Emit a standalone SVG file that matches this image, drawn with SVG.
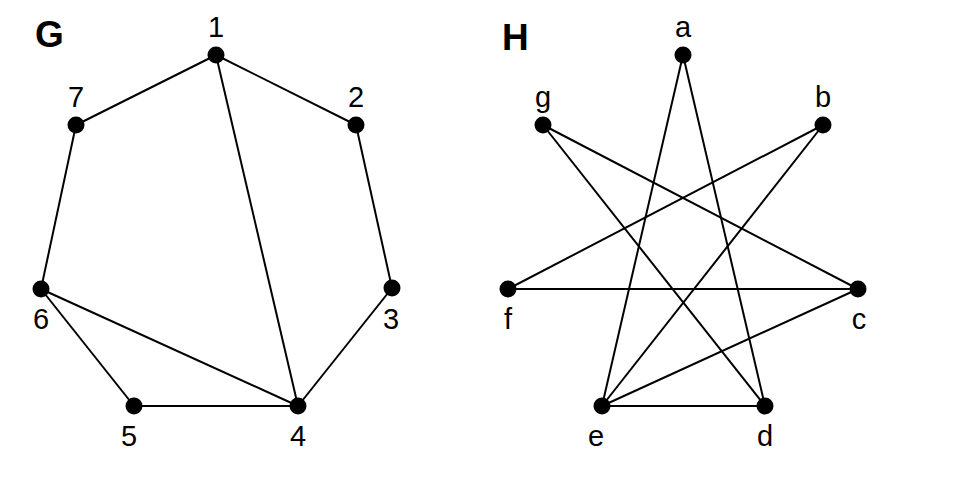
<svg xmlns="http://www.w3.org/2000/svg" width="954" height="488" viewBox="0 0 954 488">
<style>
.e{stroke:#000;stroke-width:2;fill:none}
.n{fill:#000}
.l{font-family:"Liberation Sans",Arial,sans-serif;font-size:29px;text-anchor:middle;fill:#000}
.t{font-family:"Liberation Sans",Arial,sans-serif;font-size:37px;font-weight:bold;fill:#000}
</style>
<rect width="954" height="488" fill="#fff"/>
<text class="t" x="35" y="47">G</text>
<text class="t" x="502" y="50">H</text>
<g id="connectors">
<line class="e" x1="216" y1="55" x2="76" y2="125"/>
<line class="e" x1="216" y1="55" x2="356" y2="125"/>
<line class="e" x1="216" y1="55" x2="298" y2="406"/>
<line class="e" x1="356" y1="125" x2="392" y2="288"/>
<line class="e" x1="392" y1="288" x2="298" y2="406"/>
<line class="e" x1="298" y1="406" x2="134" y2="406"/>
<line class="e" x1="298" y1="406" x2="41" y2="289"/>
<line class="e" x1="134" y1="406" x2="41" y2="289"/>
<line class="e" x1="41" y1="289" x2="76" y2="125"/>
<line class="e" x1="683" y1="55" x2="602" y2="406"/>
<line class="e" x1="683" y1="55" x2="765" y2="406"/>
<line class="e" x1="543" y1="125" x2="858" y2="289"/>
<line class="e" x1="543" y1="125" x2="765" y2="406"/>
<line class="e" x1="823" y1="125" x2="508" y2="289"/>
<line class="e" x1="823" y1="125" x2="602" y2="406"/>
<line class="e" x1="508" y1="289" x2="858" y2="289"/>
<line class="e" x1="602" y1="406" x2="858" y2="289"/>
<line class="e" x1="602" y1="406" x2="765" y2="406"/>
</g>
<g id="n1"><circle class="n" cx="216" cy="55" r="8.5"/><text class="l" x="216" y="37">1</text></g>
<g id="n2"><circle class="n" cx="356" cy="125" r="8.5"/><text class="l" x="356" y="107">2</text></g>
<g id="n3"><circle class="n" cx="392" cy="288" r="8.5"/><text class="l" x="391" y="329">3</text></g>
<g id="n4"><circle class="n" cx="298" cy="406" r="8.5"/><text class="l" x="298" y="446">4</text></g>
<g id="n5"><circle class="n" cx="134" cy="406" r="8.5"/><text class="l" x="129" y="446">5</text></g>
<g id="n6"><circle class="n" cx="41" cy="289" r="8.5"/><text class="l" x="41" y="329">6</text></g>
<g id="n7"><circle class="n" cx="76" cy="125" r="8.5"/><text class="l" x="76" y="107">7</text></g>
<g id="na"><circle class="n" cx="683" cy="55" r="8.5"/><text class="l" x="683" y="37">a</text></g>
<g id="nb"><circle class="n" cx="823" cy="125" r="8.5"/><text class="l" x="823" y="107">b</text></g>
<g id="nc"><circle class="n" cx="858" cy="289" r="8.5"/><text class="l" x="859" y="329">c</text></g>
<g id="nd"><circle class="n" cx="765" cy="406" r="8.5"/><text class="l" x="765" y="446">d</text></g>
<g id="ne"><circle class="n" cx="602" cy="406" r="8.5"/><text class="l" x="596" y="446">e</text></g>
<g id="nf"><circle class="n" cx="508" cy="289" r="8.5"/><text class="l" x="508" y="329">f</text></g>
<g id="ng"><circle class="n" cx="543" cy="125" r="8.5"/><text class="l" x="543" y="107">g</text></g>
</svg>
